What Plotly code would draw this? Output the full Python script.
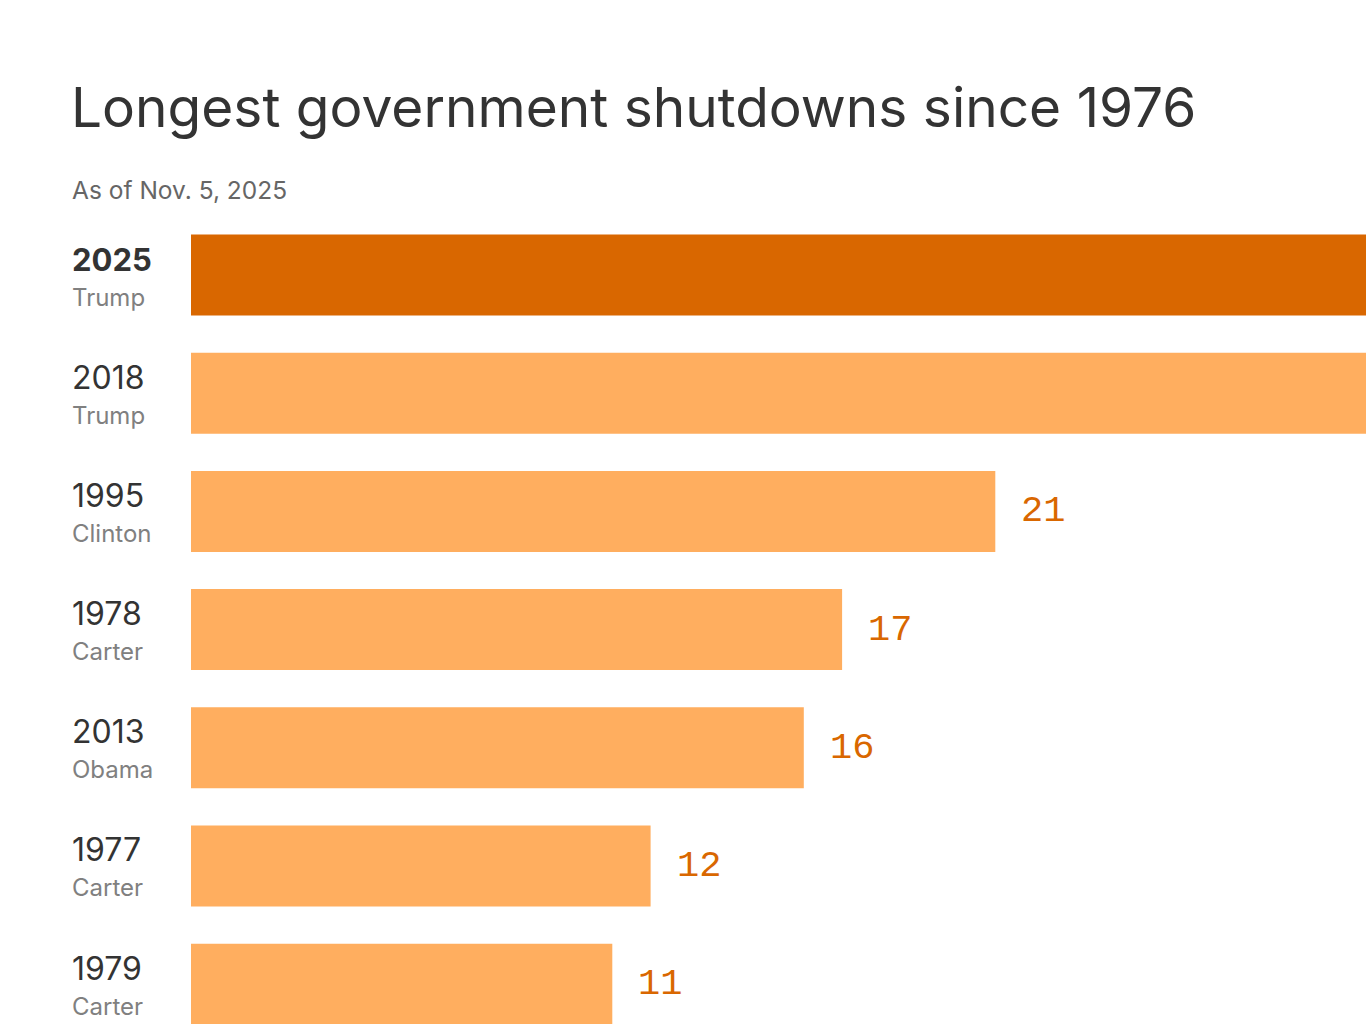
import plotly.graph_objects as go

years = ["2025", "2018", "1995", "1978", "2013", "1977", "1979"]
presidents = ["Trump", "Trump", "Clinton", "Carter", "Obama", "Carter", "Carter"]
days = [36, 35, 21, 17, 16, 12, 11]
highlight = [True, False, False, False, False, False, False]

W, H = 1366, 1024
L, T = 191, 216
px_per_day = 38.3
px_per_cat = 118.17
xmax = (W - L) / px_per_day
ymax = -0.5 + (H - T) / px_per_cat

DARK = "#d96700"
LIGHT = "#ffae5f"
colors = [DARK if h else LIGHT for h in highlight]

fig = go.Figure(go.Bar(
    x=days, y=list(range(len(years))), orientation="h",
    marker=dict(color=colors, line=dict(width=0)),
    width=0.685, hoverinfo="skip", cliponaxis=True,
))

ann = []
xlab = (73 - L) / (W - L)
for i, (yr, pr, d, h) in enumerate(zip(years, presidents, days, highlight)):
    ann.append(dict(x=xlab, xref="paper", y=i, yref="y", xanchor="left", yanchor="middle",
                    text=f"<b>{yr}</b>" if h else yr, showarrow=False, yshift=16, xshift=-3,
                    font=dict(family="Inter", size=31 if h else 32, color="#333333")))
    ann.append(dict(x=xlab, xref="paper", y=i, yref="y", xanchor="left", yanchor="middle",
                    text=pr, showarrow=False, yshift=-22, xshift=-3,
                    font=dict(family="Inter", size=24, color="#808080")))
    if d < xmax - 2:
        ann.append(dict(x=d, xref="x", y=i, yref="y", xanchor="left", yanchor="middle",
                        text=str(d), showarrow=False, xshift=24, yshift=0,
                        font=dict(family="Liberation Mono", size=37, color=DARK)))

def py(p):
    return (H - p) / (H - T)

ann.append(dict(x=xlab, xref="paper", y=py(107), yref="paper", xanchor="left", yanchor="middle",
                text="Longest government shutdowns since 1976", showarrow=False, xshift=-4,
                font=dict(family="Inter", size=55, color="#333333")))
ann.append(dict(x=xlab, xref="paper", y=py(190), yref="paper", xanchor="left", yanchor="middle",
                text="As of Nov. 5, 2025", showarrow=False, xshift=-3,
                font=dict(family="Inter", size=24.5, color="#666666")))

fig.update_layout(
    width=W, height=H,
    margin=dict(l=L, r=0, t=T, b=0),
    paper_bgcolor="white", plot_bgcolor="white",
    showlegend=False,
    xaxis=dict(range=[0, xmax], visible=False, fixedrange=True),
    yaxis=dict(range=[ymax, -0.5], visible=False, fixedrange=True),
    annotations=ann,
)

fig.write_html("out.html", config={"displayModeBar": False})
